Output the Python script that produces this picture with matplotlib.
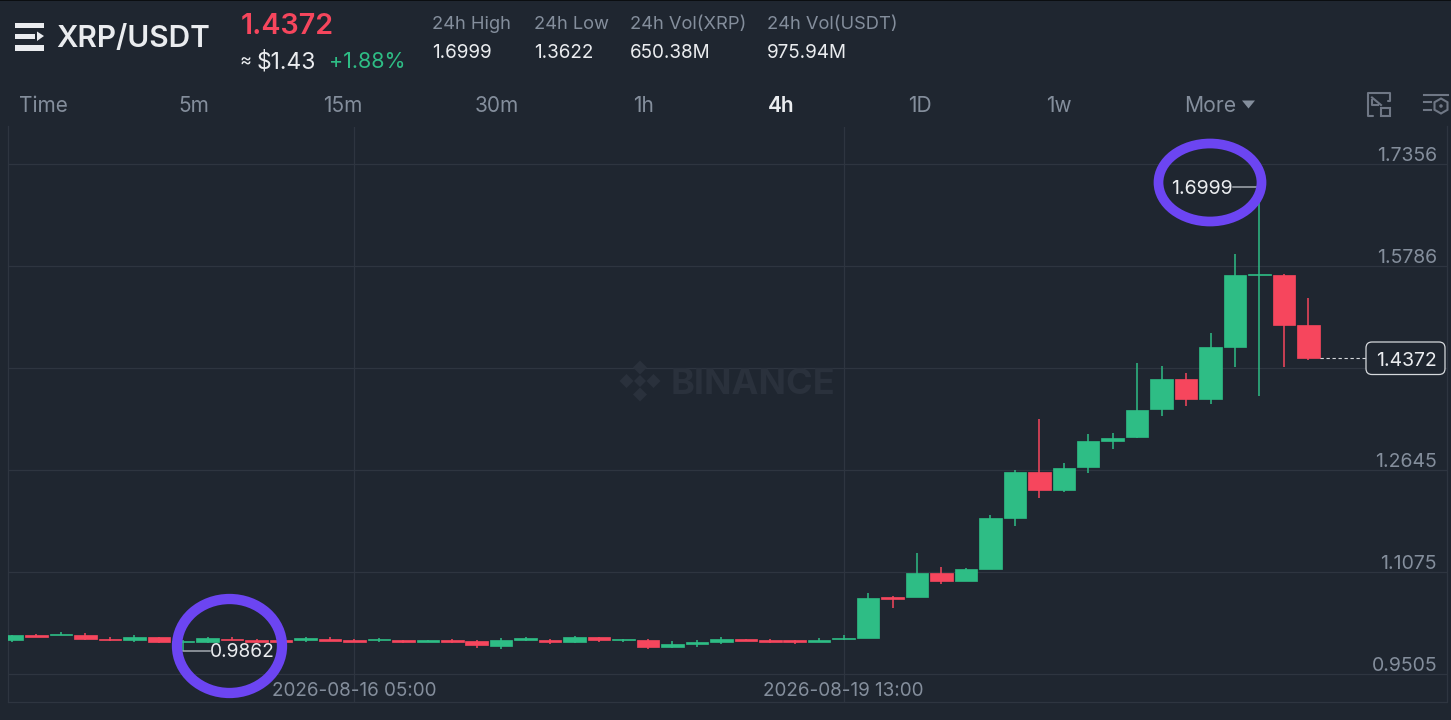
import matplotlib
matplotlib.use('Agg')
import matplotlib.pyplot as plt
from matplotlib.patches import Ellipse, Rectangle, FancyBboxPatch, Polygon, RegularPolygon
from matplotlib.transforms import blended_transform_factory as btf

W, H = 1451, 720
BG = '#1f2630'
GRID = '#2e3540'
GREEN = '#2ebd85'
RED = '#f6465d'
GRAY = '#848e9c'
WHITE = '#eaecef'
PURPLE = '#6c45f2'

plt.rcParams['font.family'] = ['Inter', 'DejaVu Sans']

opens = [1.0036, 1.0113, 1.0105, 1.0102, 1.0051, 1.0025, 1.0071, 0.9990, 0.9995, 1.0047,
         1.0036, 1.0025, 1.0025, 1.0047, 1.0036, 1.0021, 1.0031, 1.0001, 1.0025, 1.0016,
         0.9939, 1.0025, 1.0036, 1.0005, 1.0078, 1.0021, 1.0036, 0.9913, 0.9970, 0.9990,
         1.0041, 1.0031, 1.0021, 1.0005, 1.0041, 1.0062, 1.0683, 1.0683, 1.1063, 1.0944,
         1.1124, 1.1910, 1.2612, 1.2330, 1.2684, 1.3095, 1.3146, 1.3577, 1.4039, 1.3731,
         1.4542, 1.5640, 1.5640, 1.4885]
highs = [1.0113, 1.0128, 1.0144, 1.0136, 1.0071, 1.0098, 1.0082, 1.0021, 1.0082, 1.0071,
         1.0044, 1.0031, 1.0067, 1.0071, 1.0044, 1.0056, 1.0036, 1.0036, 1.0047, 1.0031,
         1.0062, 1.0082, 1.0041, 1.0093, 1.0082, 1.0051, 1.0051, 1.0010, 1.0025, 1.0078,
         1.0047, 1.0051, 1.0025, 1.0062, 1.0098, 1.0749, 1.0713, 1.1365, 1.1155, 1.1140,
         1.1960, 1.2648, 1.3438, 1.2756, 1.3192, 1.3218, 1.4296, 1.4243, 1.4142, 1.4758,
         1.5978, 1.6999, 1.5670, 1.5296]
lows = [0.9990, 1.0067, 1.0105, 1.0036, 1.0013, 1.0001, 0.9985, 0.9862, 0.9979, 1.0021,
        0.9998, 0.9998, 1.0005, 1.0013, 0.9998, 1.0001, 0.9975, 0.9995, 0.9975, 0.9900,
        0.9887, 1.0010, 0.9970, 0.9975, 0.9995, 1.0001, 0.9887, 0.9898, 0.9928, 0.9964,
        1.0010, 0.9985, 0.9964, 0.9990, 1.0031, 1.0059, 1.0524, 1.0683, 1.0887, 1.0934,
        1.1114, 1.1780, 1.2207, 1.2310, 1.2596, 1.2966, 1.3135, 1.3474, 1.3628, 1.3669,
        1.4228, 1.3781, 1.4228, 1.4346]
closes = [1.0113, 1.0075, 1.0128, 1.0047, 1.0021, 1.0071, 0.9990, 1.0016, 1.0056, 1.0025,
          1.0005, 1.0001, 1.0056, 1.0016, 1.0005, 1.0047, 0.9995, 1.0031, 0.9990, 0.9944,
          1.0036, 1.0062, 1.0005, 1.0078, 1.0021, 1.0047, 0.9913, 0.9970, 0.9995, 1.0041,
          1.0016, 1.0001, 0.9990, 1.0036, 1.0062, 1.0678, 1.0652, 1.1063, 1.0944, 1.1124,
          1.1910, 1.2612, 1.2330, 1.2679, 1.3089, 1.3141, 1.3572, 1.4039, 1.3731, 1.4542,
          1.5640, 1.5655, 1.4885, 1.4372]

price_ticks = [0.9505, 1.1075, 1.2645, 1.4216, 1.5786, 1.7356]
price_labels = ['0.9505', '1.1075', '1.2645', '', '1.5786', '1.7356']
time_ticks = [14, 34]
time_labels = ['2026-08-16 05:00', '2026-08-19 13:00']
low_idx, low_val, high_idx, high_val = 7, 0.9862, 51, 1.6999
last_price = 1.4372

periods = ['Time', '5m', '15m', '30m', '1h', '4h', '1D', '1w']
stats = [('24h High', '1.6999'), ('24h Low', '1.3622'),
         ('24h Vol(XRP)', '650.38M'), ('24h Vol(USDT)', '975.94M')]

fig = plt.figure(figsize=(W / 100, H / 100), dpi=100, facecolor=BG)

# ---- chart axes
L, R, T, B = 8.0, 1446.5, 126.5, 702.0
ax = fig.add_axes([L / W, 1 - B / H, (R - L) / W, (B - T) / H], facecolor=BG, zorder=1)
step_x = 24.46
ax.set_xlim((L - 12) / step_x, (R - 12) / step_x)
per_px = (1.7356 - 0.9505) / 510
ax.set_ylim(0.9505 - (B - 674.0) * per_px, 1.7356 + (164.0 - T) * per_px)

ax.set_yticks(price_ticks)
ax.set_xticks(time_ticks)
ax.grid(True, color=GRID, lw=0.9, zorder=0)
ax.set_yticklabels([])
ax.set_xticklabels([])
ax.tick_params(length=0)
for s in ('left', 'right', 'bottom'):
    ax.spines[s].set_color(GRID)
    ax.spines[s].set_linewidth(0.9)
ax.spines['top'].set_visible(False)
ax.set_axisbelow(True)

xs = list(range(len(opens)))
cols = [GREEN if c >= o else RED for o, c in zip(opens, closes)]
ax.vlines(xs, lows, highs, colors=cols, lw=1.1, zorder=2)
ax.bar(xs, [abs(c - o) for o, c in zip(opens, closes)],
       bottom=[min(o, c) for o, c in zip(opens, closes)],
       width=0.92, color=cols, edgecolor=cols, linewidth=0.5, zorder=3)

tr = btf(ax.transAxes, ax.transData)
for v, lab in zip(price_ticks, price_labels):
    if lab:
        ax.annotate(lab, xy=(1, v), xycoords=tr, xytext=(-6.8, 5.9), textcoords='offset points',
                    ha='right', va='center', color=GRAY, fontsize=14, zorder=4)
trx = btf(ax.transData, ax.transAxes)
for t, lab in zip(time_ticks, time_labels):
    ax.annotate(lab, xy=(t, 0), xycoords=trx, xytext=(0, 7.9), textcoords='offset points',
                ha='center', va='center', color=GRAY, fontsize=13.6, zorder=4, annotation_clip=False)

# extreme-price labels with their leader lines
ax.plot([high_idx - 26 / step_x, high_idx], [high_val] * 2, color='#a4a9b0', lw=1.1, zorder=5)
ax.plot([low_idx, low_idx + 27 / step_x], [low_val] * 2, color='#a4a9b0', lw=1.1, zorder=5)
ax.annotate(f'{high_val:.4f}', xy=(high_idx, high_val), xytext=(-19, -1.4), textcoords='offset points',
            ha='right', va='center', color=WHITE, fontsize=14, zorder=6)
ax.annotate(f'{low_val:.4f}', xy=(low_idx, low_val), xytext=(19.5, -1.0), textcoords='offset points',
            ha='left', va='center', color=WHITE, fontsize=13.8, zorder=6)

# last-price line
ax.plot([53 + 0.47, (1366 - 12) / step_x], [last_price] * 2, color='#d5d8dc', lw=0.8,
        dashes=(3, 2.4), zorder=4)

# ---- overlay in pixel coordinates for the app chrome
ov = fig.add_axes([0, 0, 1, 1], zorder=2)
ov.set_xlim(0, W)
ov.set_ylim(H, 0)
ov.axis('off')
ov.patch.set_alpha(0)

ov.add_patch(Rectangle((0, 0), W, 1.2, color='#0b0e11', lw=0))

# highlight rings
ov.add_patch(Ellipse((229.5, 646), 105, 94, fill=False, ec=PURPLE, lw=7.4))
ov.add_patch(Ellipse((1210, 182.5), 103, 78, fill=False, ec=PURPLE, lw=7.0))

# price box
ov.add_patch(FancyBboxPatch((1369, 345), 73, 26.5, boxstyle='round,pad=3,rounding_size=6',
                            fc=BG, ec='#d5d8dc', lw=0.9, zorder=1))
ov.text(1437, 361, f'{last_price:.4f}', ha='right', va='center', color=WHITE, fontsize=14, zorder=3)

# watermark
wm = '#2a313c'
for cx, cy, r in [(640, 367.5, 7), (640, 394.5, 7), (626.5, 381, 7), (653.5, 381, 7), (640, 381, 6)]:
    ov.add_patch(RegularPolygon((cx, cy), 4, radius=r, fc=wm, ec='none'))
ov.text(671, 384, 'BINANCE', ha='left', va='center', color=wm, fontsize=26, fontweight='bold')

# header icon
for x, y, w, h in [(15, 22.7, 29, 5), (15, 33.5, 20, 5), (15, 45.2, 29, 5.3)]:
    ov.add_patch(Rectangle((x, y), w, h, fc=WHITE, ec='none'))
ov.add_patch(Polygon([(37, 31.5), (44, 36), (37, 41)], fc=WHITE, ec='none'))

ov.text(56.5, 39, 'XRP/USDT', color=WHITE, fontsize=21.5, fontweight='semibold', va='center', ha='left')
ov.text(241, 26, '1.4372', color=RED, fontsize=20.7, fontweight='semibold', va='center', ha='left')
ov.text(240, 62, '≈', color=WHITE, fontsize=13, va='center', ha='left')
ov.text(257, 62.5, '$1.43', color=WHITE, fontsize=16.5, va='center', ha='left')
ov.text(329, 62.5, '+1.88%', color=GREEN, fontsize=15.5, va='center', ha='left')

for x, (head, val) in zip([432, 534, 630, 767], stats):
    ov.text(x, 24.5, head, color=GRAY, fontsize=13.2, va='center', ha='left')
    ov.text(x, 53.5, val, color=WHITE, fontsize=13.6, va='center', ha='left')

for x, p in zip([43, 194, 343, 497, 643, 781, 920, 1059], periods):
    active = p == '4h'
    ov.text(x, 106, p, color=WHITE if active else GRAY, fontsize=15,
            fontweight='semibold' if active else 'normal', va='center', ha='center')
ov.text(1210, 106, 'More', color=GRAY, fontsize=15.2, va='center', ha='center')
ov.add_patch(Polygon([(1242, 100.5), (1255, 100.5), (1248.5, 108.5)], fc=GRAY, ec='none'))

# toolbar icons
ic = '#6f7785'
ov.plot([1378, 1367.5, 1367.5, 1373], [93, 93, 115.5, 115.5], color=ic, lw=1.5, solid_capstyle='round')
ov.plot([1378, 1390, 1390, 1388], [93, 93, 101, 101], color=ic, lw=1.5, solid_capstyle='round')
ov.add_patch(Rectangle((1381, 108), 8.5, 7.5, fill=False, ec=ic, lw=1.5))
ov.plot([1372, 1381], [97.5, 105], color=ic, lw=1.5)
ov.plot([1372, 1372, 1378], [100, 105, 105], color=ic, lw=1.5)
ov.plot([1424, 1448], [95, 95], color=ic, lw=1.5)
ov.plot([1424, 1431], [102, 102], color=ic, lw=1.5)
ov.plot([1424, 1431], [110, 110], color=ic, lw=1.5)
ov.add_patch(RegularPolygon((1441, 106), 6, radius=7.5, fill=False, ec=ic, lw=1.5))
ov.add_patch(Ellipse((1441, 106), 3.5, 3.5, fc=ic, ec='none'))

fig.savefig('out.png', dpi=100, facecolor=BG)
